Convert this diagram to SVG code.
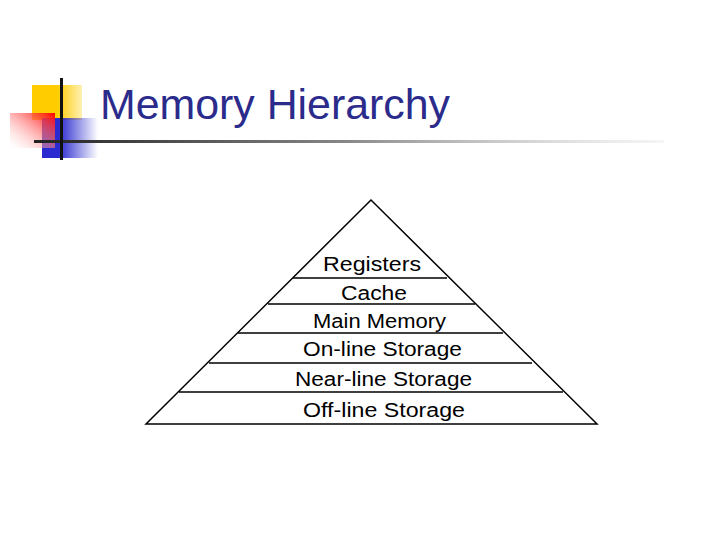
<svg xmlns="http://www.w3.org/2000/svg" width="720" height="540" viewBox="0 0 720 540">
<defs>
<linearGradient id="red" x1="1" y1="0" x2="0" y2="1"><stop offset="0" stop-color="#f00"/><stop offset="1" stop-color="#fff" stop-opacity="0.2"/></linearGradient>
<linearGradient id="blue" x1="0" y1="0" x2="1" y2="0"><stop offset="0.3" stop-color="#2a2ad0"/><stop offset="1" stop-color="#2a2ad0" stop-opacity="0"/></linearGradient>
<linearGradient id="yel" x1="0" y1="0" x2="1" y2="0"><stop offset="0.5" stop-color="#fc0"/><stop offset="1" stop-color="#fc0" stop-opacity="0.3"/></linearGradient>
<linearGradient id="rule" x1="0" y1="0" x2="1" y2="0"><stop offset="0" stop-color="#222"/><stop offset="0.5" stop-color="#888"/><stop offset="1" stop-color="#ddd" stop-opacity="0.3"/></linearGradient>
<style>.t{font-family:"Liberation Sans",Arial,sans-serif;font-size:20px;fill:#000}.l{stroke:#000;stroke-width:1.5;fill:none}</style>
</defs>
<g id="logo">
<rect x="32" y="85" width="50" height="35" fill="url(#yel)"/>
<rect x="42" y="118" width="56" height="40" fill="url(#blue)"/>
<rect x="10" y="113" width="45" height="35" fill="url(#red)"/>
<rect x="34" y="140" width="630" height="3" fill="url(#rule)"/>
<rect x="60" y="78" width="3" height="82" fill="#111"/>
</g>
<text x="100" y="119" font-family="Liberation Sans,Arial,sans-serif" font-size="42" fill="#2b2b8c" textLength="350" lengthAdjust="spacingAndGlyphs">Memory Hierarchy</text>
<g id="pyramid">
<path class="l" d="M371 200 L146 424 L597 424 Z"/>
<path class="l" d="M293 278H447M268 304H475M238 333H503M209 363H532M179 392H563"/>
<text class="t" x="323" y="271" textLength="98" lengthAdjust="spacingAndGlyphs">Registers</text>
<text class="t" x="341" y="300" textLength="66" lengthAdjust="spacingAndGlyphs">Cache</text>
<text class="t" x="313" y="328" textLength="133" lengthAdjust="spacingAndGlyphs">Main Memory</text>
<text class="t" x="303" y="356" textLength="159" lengthAdjust="spacingAndGlyphs">On-line Storage</text>
<text class="t" x="295" y="386" textLength="177" lengthAdjust="spacingAndGlyphs">Near-line Storage</text>
<text class="t" x="303" y="417" textLength="162" lengthAdjust="spacingAndGlyphs">Off-line Storage</text>
</g>
</svg>
